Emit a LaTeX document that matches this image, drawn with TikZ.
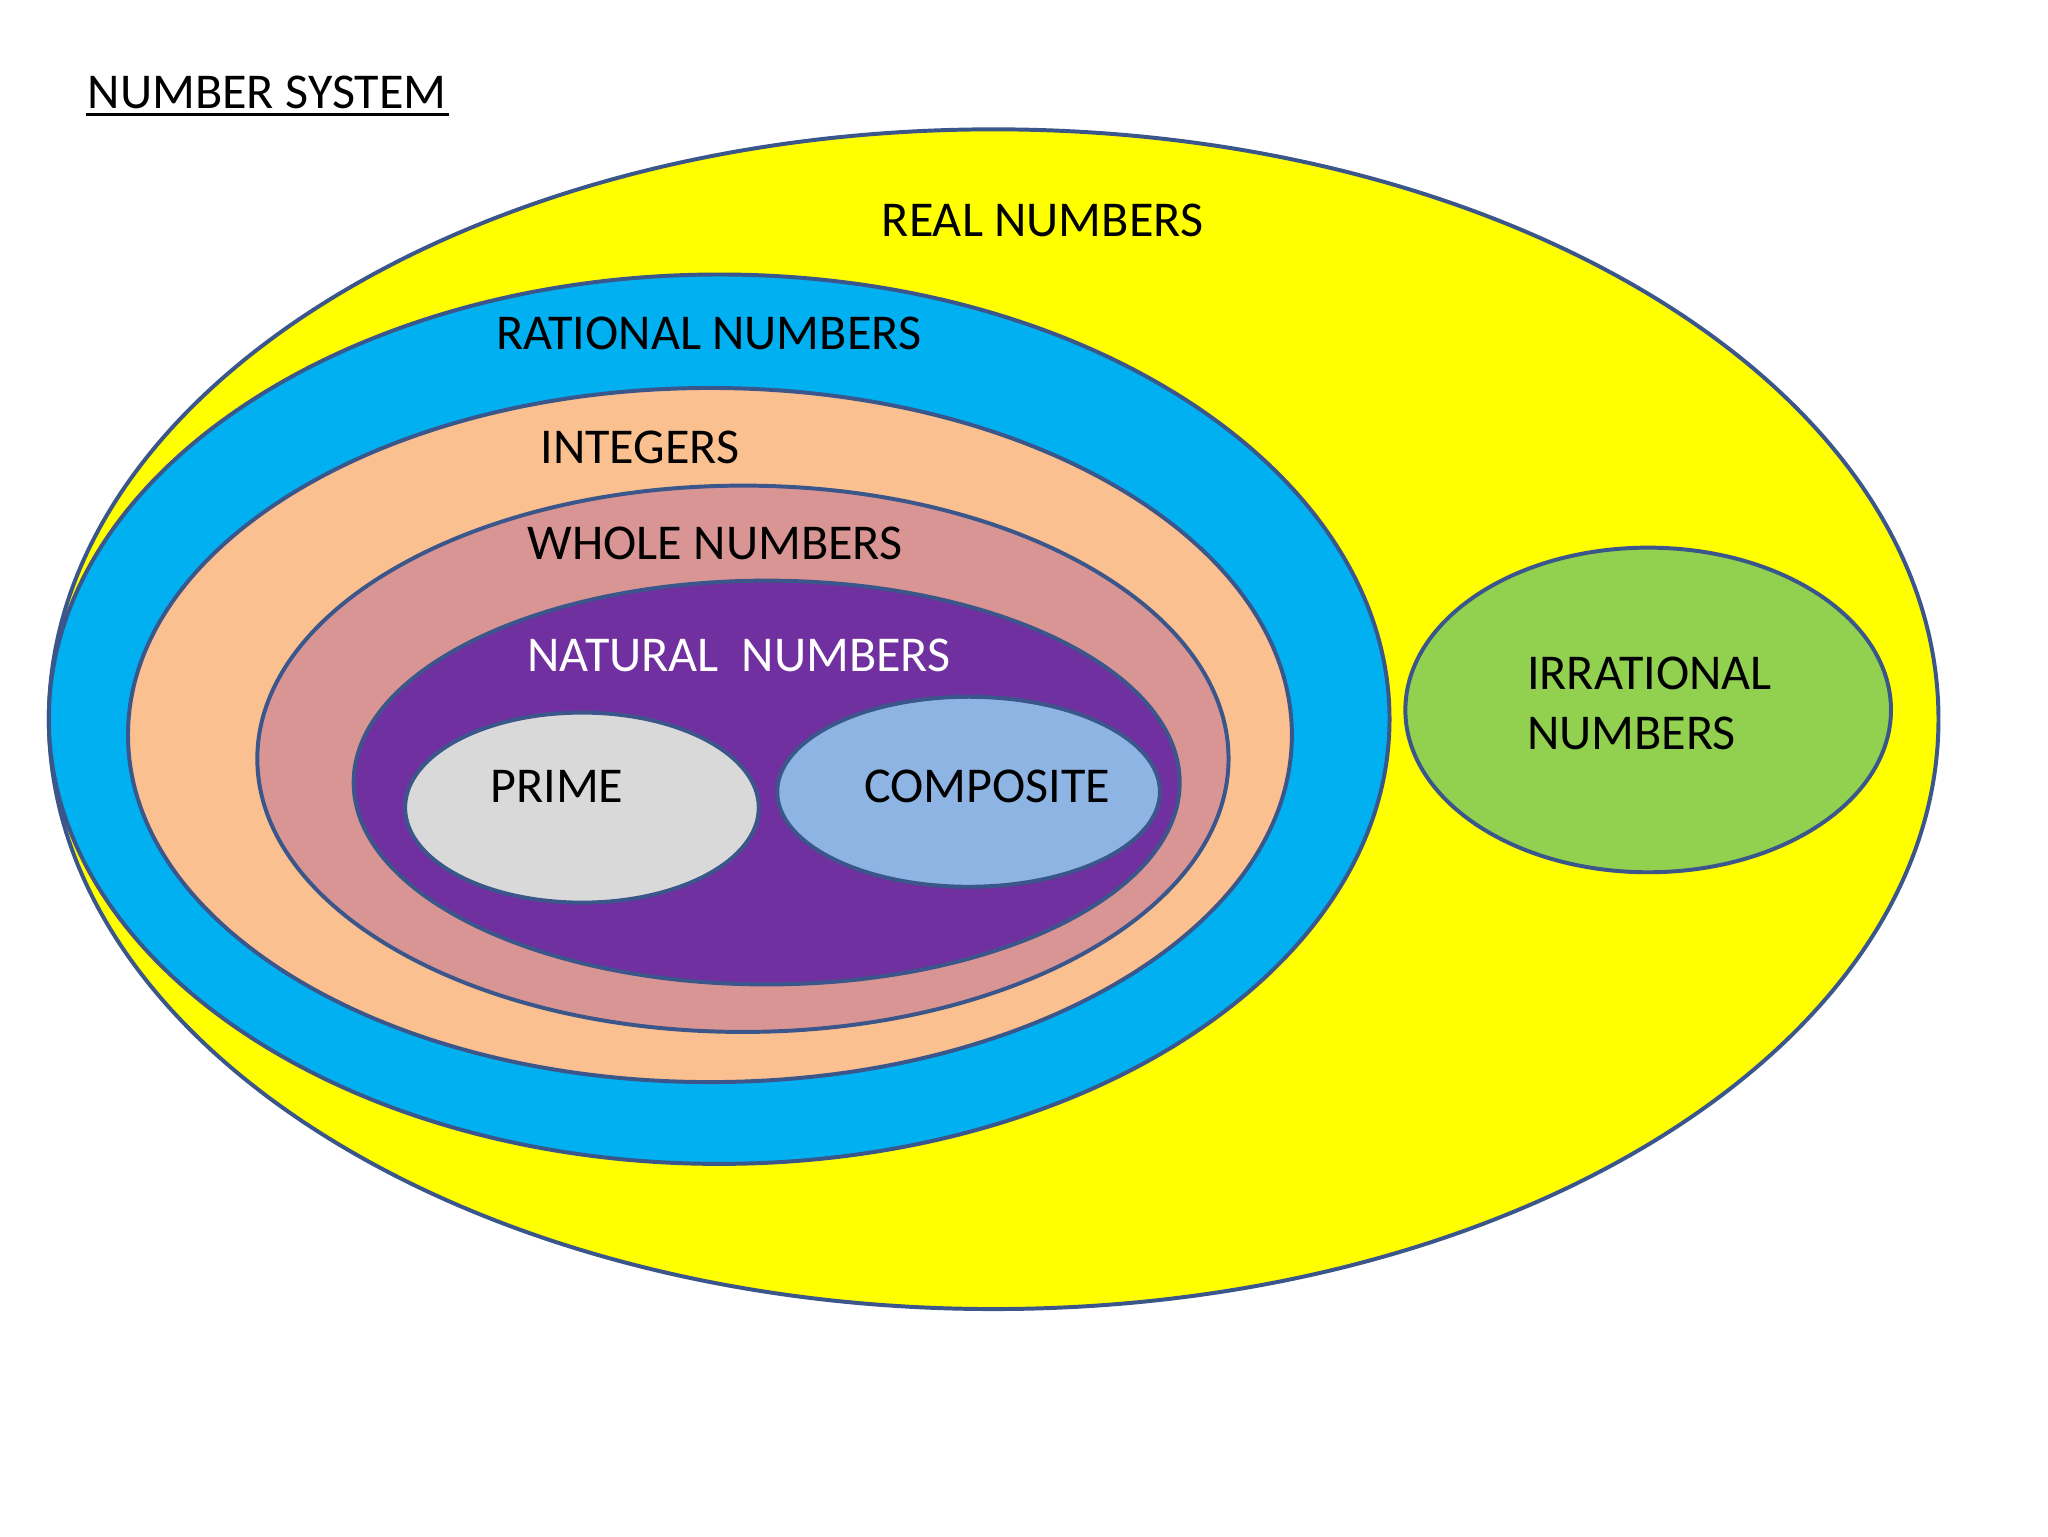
\documentclass[tikz,border=0pt]{standalone}
\usepackage{fontspec}
\setmainfont{Carlito}
\definecolor{realc}{RGB}{255,255,0}
\definecolor{ratc}{RGB}{0,176,240}
\definecolor{intc}{RGB}{250,192,144}
\definecolor{wholec}{RGB}{217,149,148}
\definecolor{natc}{RGB}{112,48,160}
\definecolor{primec}{RGB}{217,217,217}
\definecolor{compc}{RGB}{141,180,226}
\definecolor{irrc}{RGB}{146,208,80}
\definecolor{edgec}{RGB}{59,86,138}
\tikzset{every picture/.style={line width=1.5pt},
  set/.style={draw=edgec, line width=1.5pt},
  lbl/.style={inner sep=0pt, font=\fontsize{19}{23}\selectfont}}
\begin{document}
\begin{tikzpicture}[x=0.5pt,y=-0.5pt]
\useasboundingbox (0,0) rectangle (1552,1164);
\fill[white] (0,0) rectangle (1552,1164);

% sets
\draw [set, fill=realc] (753,545) ellipse [x radius=716, y radius=447];
\draw [set, fill=ratc] (545,545) ellipse [x radius=508, y radius=337];
\draw [set, fill=intc] (538,557) ellipse [x radius=441, y radius=263];
\draw [set, fill=wholec] (563,575) ellipse [x radius=368, y radius=207];
\draw [set, fill=natc] (581,593) ellipse [x radius=313, y radius=153];
\draw [set, fill=primec] (441,612) ellipse [x radius=134, y radius=72];
\draw [set, fill=compc] (734,600) ellipse [x radius=145, y radius=72];
\draw [set, fill=irrc] (1249,538) ellipse [x radius=184, y radius=123];

% labels
\node (title) [lbl, anchor=base west] at (65,82) {NUMBER SYSTEM};
\draw [line width=1pt] ([yshift=-2.5pt]title.base west) -- ([yshift=-2.5pt]title.base east);
\node (real) [lbl] at (790,167) {REAL NUMBERS};
\node (rational) [lbl] at (537,253) {RATIONAL NUMBERS};
\node (integers) [lbl] at (485,339) {INTEGERS};
\node (whole) [lbl] at (542,412) {WHOLE NUMBERS};
\node (natural) [lbl, text=white] at (560,497) {NATURAL\ \ NUMBERS};
\node (prime) [lbl] at (422,596) {PRIME};
\node (composite) [lbl] at (748,596) {COMPOSITE};
\node (irrational) [lbl, align=left] at (1250,533) {IRRATIONAL\\NUMBERS};
\end{tikzpicture}
\end{document}
